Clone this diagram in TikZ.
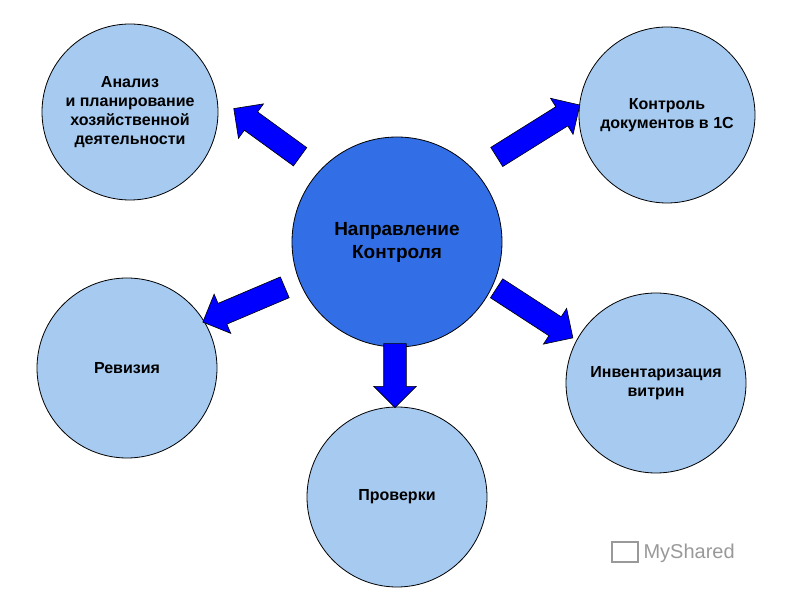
\documentclass[tikz,border=0pt]{standalone}
\usepackage{fontspec}
\setmainfont{Liberation Sans}
\usetikzlibrary{shapes.arrows}
\begin{document}
\begin{tikzpicture}[x=1pt,y=1pt,
  sat/.style={circle,draw=black,line width=0.8pt,fill=satblue,align=center,font=\bfseries\fontsize{16}{19}\selectfont},
  arr/.style={single arrow,draw=black,line width=0.6pt,fill=blue,inner sep=11pt,single arrow head extend=10pt,anchor=center}]
\definecolor{satblue}{RGB}{166,202,240}
\definecolor{midblue}{RGB}{50,110,230}
\useasboundingbox (0,0) rectangle (800,600);
\node[circle,draw=black,line width=0.8pt,fill=midblue,minimum size=210pt,align=center,font=\bfseries\fontsize{19}{23}\selectfont] (c) at (397,358) {Направление\\Контроля};
\node[sat,minimum size=176pt] (a) at (130,488) {Анализ\\и планирование\\хозяйственной\\деятельности};
\node[sat,minimum size=176pt] (b) at (667,485) {Контроль\\документов в 1С};
\node[sat,minimum size=180pt] (r) at (127,232) {Ревизия};
\node[sat,minimum size=180pt] (p) at (397,103) {Проверки};
\node[sat,minimum size=180pt] (i) at (656,217) {Инвентаризация\\витрин};
\node[arr,minimum height=82pt,rotate=144] (ea) at (271.5,464) {};
\node[arr,minimum height=98pt,rotate=32] (eb) at (533.5,466) {};
\node[arr,minimum height=89pt,rotate=203] (er) at (249,297.5) {};
\node[arr,minimum height=91pt,rotate=-33] (ei) at (530,290) {};
\node[arr,minimum height=64pt,rotate=-90] (ep) at (395,230) {};
\node[font=\fontsize{20}{22}\selectfont,text=gray!80,anchor=west] (w) at (640,47) {MyShared};
\draw[gray!80,line width=1.5pt] (612,38) rectangle (638,58);
\end{tikzpicture}
\end{document}
